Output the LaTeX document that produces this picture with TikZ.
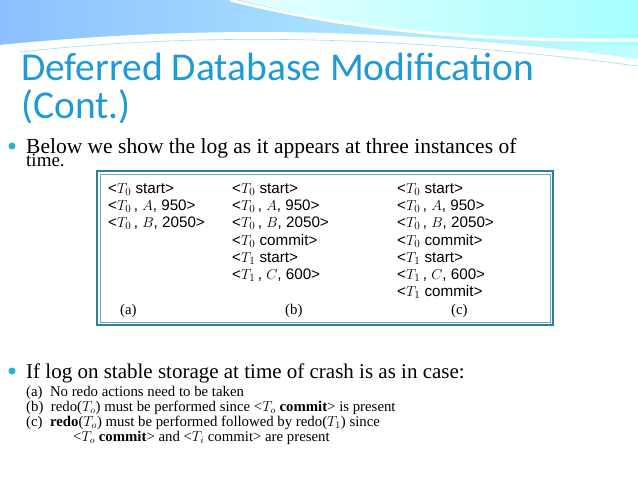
\documentclass[tikz,border=0pt]{standalone}
\usepackage{fontspec}
\setmainfont{Liberation Serif}
\newfontfamily\ttl{Carlito}
\newfontfamily\hv{Liberation Sans}
\tikzset{
 ttext/.style={anchor=base west,text=titleblue,font=\ttl\fontsize{39.5}{39.5}\selectfont,inner sep=0},
 btext/.style={anchor=base west,font=\fontsize{21.5}{21.5}\selectfont,inner sep=0},
 stext/.style={anchor=base west,font=\fontsize{14.8}{14.8}\selectfont,inner sep=0},
 ltext/.style={anchor=base west,font=\hv\fontsize{15.2}{15.2}\selectfont,inner sep=0},
 bul/.style={circle,fill=bulcol,inner sep=0,minimum size=7pt}
}
\definecolor{titleblue}{HTML}{1E9BD7}
\definecolor{bulcol}{HTML}{2BB3D6}
\definecolor{boxblue}{HTML}{2E7FA2}
\begin{document}
\begin{tikzpicture}[x=1pt,y=-1pt]
\useasboundingbox (0,0) rectangle (638,479);
\fill[white] (0,0) rectangle (638,479);
\shade[left color=cyan!45!blue!45,right color=cyan!25] (0,0) -- (638,0) -- (638,60) .. controls (500,40) and (300,25) .. (0,45) -- cycle;
\shade[left color=cyan!10,right color=cyan!35] (240,0) .. controls (320,20) and (420,40) .. (638,45) -- (638,0) -- cycle;
\draw[white,line width=3pt] (230,0) .. controls (320,22) and (430,42) .. (638,40);
\draw[white,line width=6pt] (0,48) .. controls (200,28) and (400,30) .. (638,62);
\draw[cyan!40,line width=0.6pt] (20,52) .. controls (200,32) and (400,35) .. (638,66);
\node[ttext] (t1) at (21,80) {Deferred Database Modification};
\node[ttext] (t2) at (21,118) {(Cont.)};
\node[bul] (b1) at (12,146) {};
\node[btext] (l1) at (26,153) {Below we show the log as it appears at three instances of};
\node[btext,font=\fontsize{19}{13}\selectfont] (l2) at (26,166) {time.};
\draw[boxblue,line width=1.2pt,fill=white] (97,171) rectangle (553,325);
\draw[boxblue!70,line width=0.8pt] (100,174) rectangle (550,322);
\foreach \c/\x in {a/108,b/232,c/397}{
 \node[ltext] (\c1) at (\x,193) {<$T_0$\ start>};
 \node[ltext] (\c2) at (\x,210) {<$T_0$\,,\ $A$,\ 950>};
 \node[ltext] (\c3) at (\x,227) {<$T_0$\,,\ $B$,\ 2050>};
}
\foreach \c/\x in {b/232,c/397}{
 \node[ltext] (\c4) at (\x,245) {<$T_0$\ commit>};
 \node[ltext] (\c5) at (\x,262) {<$T_1$\ start>};
 \node[ltext] (\c6) at (\x,279) {<$T_1$\,,\ $C$,\ 600>};
}
\node[ltext] (c7) at (397,296) {<$T_1$\ commit>};
\node[stext] (la) at (120,314) {(a)};
\node[stext] (lb) at (285,314) {(b)};
\node[stext] (lc) at (451,314) {(c)};
\node[bul] (b2) at (12,371) {};
\node[btext,font=\fontsize{21}{21}\selectfont] (m1) at (26,378) {If log on stable storage at time of crash is as in case:};
\node[stext] (s1) at (26,396) {(a)\ \ No redo actions need to be taken};
\node[stext] (s2) at (26,411) {(b)\ \ redo($T_o$) must be performed since <$T_o$ \textbf{commit}> is present};
\node[stext] (s3) at (26,426) {(c)\ \ \textbf{redo}($T_o$) must be performed followed by redo($T_1$) since};
\node[stext] (s4) at (73,441) {<$T_o$ \textbf{commit}> and <$T_i$ commit> are present};
\end{tikzpicture}
\end{document}
